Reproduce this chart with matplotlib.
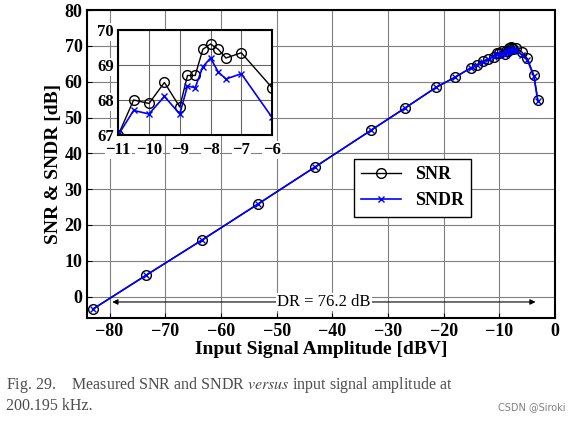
import matplotlib
matplotlib.use("Agg")
import matplotlib.pyplot as plt

plt.rcParams['font.family'] = ['Liberation Serif', 'DejaVu Serif']
plt.rcParams['mathtext.fontset'] = 'stix'

# main sweep (input dBV, SNR dB, SNDR dB)
amp = [-83, -73.4, -63.4, -53.3, -43.1, -33, -27, -21.3, -17.9, -15.1, -14, -13, -12,
       -11, -10.5, -10, -9.5, -9, -8.75, -8.5, -8.25, -8, -7.75, -7.5, -7, -6, -5, -3.8, -3.1]
snr = [-3.5, 6, 15.8, 25.9, 36.2, 46.5, 52.6, 58.5, 61.3, 63.9, 64.8, 65.7, 66.4,
       67.0, 68.0, 67.9, 68.5, 67.8, 68.7, 68.7, 69.45, 69.6, 69.45, 69.2, 69.35, 68.35, 66.5, 61.8, 55.0]
sndr = [-3.5, 6, 15.8, 25.9, 36.2, 46.5, 52.6, 58.5, 61.3, 63.9, 64.7, 65.6, 66.3,
        67.0, 67.7, 67.6, 68.1, 67.6, 68.4, 68.35, 68.95, 69.2, 68.8, 68.6, 68.75, 67.5, 66.2, 61.5, 54.6]
ins_amp = amp[13:26]
ins_snr = snr[13:26]
ins_sndr = sndr[13:26]

fig = plt.figure(figsize=(5.74, 4.23), dpi=100)
ax = fig.add_axes([0.152, 0.248, 0.815, 0.728])
ax.plot(amp, snr, 'k-o', mfc='none', ms=7, lw=1, label='SNR')
ax.plot(amp, sndr, 'b-x', ms=5, lw=1.2, label='SNDR')
ax.set_xlim(-84, 0)
ax.set_ylim(-6, 80)
ax.set_xticks(range(-80, 1, 10))
ax.set_yticks(range(0, 81, 10))
ax.grid(True, color='0.5', lw=0.8)
ax.tick_params(labelsize=13, direction='in')
for lb in ax.get_xticklabels() + ax.get_yticklabels():
    lb.set_fontweight('bold')
ax.set_xlabel('Input Signal Amplitude [dBV]', fontsize=14, fontweight='bold', labelpad=1)
ax.set_ylabel('SNR & SNDR [dB]', fontsize=14, fontweight='bold', labelpad=2)
for s in ax.spines.values():
    s.set_linewidth(1.5)

ax.annotate('', xy=(-80, -1.5), xytext=(-3, -1.5),
            arrowprops=dict(arrowstyle='<|-|>', color='k', lw=0.8, mutation_scale=8))
ax.text(-41.5, -1.5, 'DR = 76.2 dB', ha='center', va='center', fontsize=12,
        bbox=dict(fc='white', ec='none', pad=1))
ax.legend(loc='lower right', bbox_to_anchor=(0.84, 0.3), prop={'weight': 'bold', 'size': 13},
          fancybox=False, edgecolor='k', framealpha=1, handlelength=2.2)

ins = fig.add_axes([0.206, 0.681, 0.268, 0.248])
ins.plot(ins_amp, ins_snr, 'k-o', mfc='none', ms=7, lw=1)
ins.plot(ins_amp, ins_sndr, 'b-x', ms=5, lw=1.2)
ins.set_xlim(-11, -6)
ins.set_ylim(67, 70)
ins.set_xticks(range(-11, -5))
ins.set_yticks([67, 68, 69, 70])
ins.grid(True, color='0.4', lw=0.8)
ins.tick_params(labelsize=12, direction='in', length=0)
ins.tick_params(axis='x', pad=5)
ins.tick_params(axis='y', pad=3)
for lb in ins.get_xticklabels() + ins.get_yticklabels():
    lb.set_fontweight('bold')
    lb.set_bbox(dict(fc='white', ec='none', pad=0.5))
for s in ins.spines.values():
    s.set_linewidth(1.5)

fig.text(0.01, 0.08, 'Fig. 29.    Measured SNR and SNDR $\\it{versus}$ input signal amplitude at',
         fontsize=11.5, color='0.3')
fig.text(0.01, 0.03, '200.195 kHz.', fontsize=11.5, color='0.3')
fig.text(0.985, 0.03, 'CSDN @Siroki', fontsize=7, color='0.5', ha='right', family='DejaVu Sans')

fig.savefig('out.png')
